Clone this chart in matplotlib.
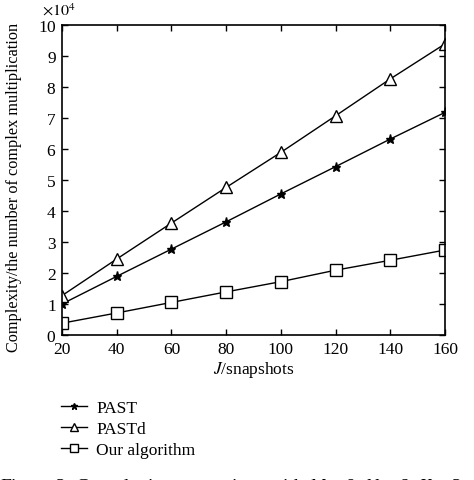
import matplotlib
matplotlib.use("Agg")
import matplotlib.pyplot as plt
from matplotlib.ticker import ScalarFormatter
from matplotlib.lines import Line2D

plt.rcParams['font.family'] = ['Liberation Serif', 'DejaVu Serif']
plt.rcParams['mathtext.fontset'] = 'stix'

snapshots = [20, 40, 60, 80, 100, 120, 140, 160]
past = [10000, 18900, 27700, 36500, 45500, 54300, 63200, 71800]
pastd = [12700, 24500, 36100, 47600, 58900, 70700, 82600, 93900]
ours = [3800, 7100, 10500, 13900, 17200, 20900, 24100, 27400]
labels = ["PAST", "PASTd", "Our algorithm"]

fig = plt.figure(figsize=(4.74, 4.81), dpi=100)
ax = fig.add_axes([0.1308, 0.3015, 0.808, 0.6445])

ax.plot(snapshots, past, color='black', lw=1.0, marker='*', ms=6.5,
        mfc='black', mec='black')
ax.plot(snapshots, pastd, color='black', lw=1.0, marker='^', ms=9,
        mfc='white', mec='black', mew=1.0)
ax.plot(snapshots, ours, color='black', lw=1.0, marker='s', ms=8,
        mfc='white', mec='black', mew=1.0)

ax.set_xlim(20, 160)
ax.set_ylim(0, 100000)
ax.set_xticks(snapshots)
ax.set_yticks([i * 10000 for i in range(11)])
fmt = ScalarFormatter(useMathText=True)
fmt.set_powerlimits((4, 4))
ax.yaxis.set_major_formatter(fmt)
ax.yaxis.get_offset_text().set_visible(False)
ax.text(-0.052, 1.032, r"$\times10^{4}$", transform=ax.transAxes,
        fontsize=11.5, ha='left', va='baseline')

ax.tick_params(direction='in', top=True, right=True, labelsize=12.5, length=4,
               width=1.0, pad=4)
for s in ax.spines.values():
    s.set_linewidth(1.2)

ax.set_xlabel("$J$/snapshots", fontsize=12.5, labelpad=2)
ax.set_ylabel("Complexity/the number of complex multiplication", fontsize=11.7,
              labelpad=2)
ax.yaxis.set_label_coords(-0.105, 0.48)

handles = [
    Line2D([], [], color='black', lw=1.0, marker='*', ms=4.5, mfc='black', mec='black'),
    Line2D([], [], color='black', lw=1.0, marker='^', ms=6, mfc='white', mec='black'),
    Line2D([], [], color='black', lw=1.0, marker='s', ms=5.5, mfc='white', mec='black'),
]
fig.legend(handles, labels, loc='upper left', bbox_to_anchor=(0.128, 0.167),
           frameon=False, fontsize=12.5, handlelength=1.5, handletextpad=0.55,
           labelspacing=0.28, borderaxespad=0, borderpad=0)

fig.text(0.0, 0.008, "Figure 3: Complexity comparison with $M$ = 8, $N$ = 6, $K$ = 3, and",
         fontsize=14, ha='left', va='top')

fig.savefig("out.png", dpi=100)
